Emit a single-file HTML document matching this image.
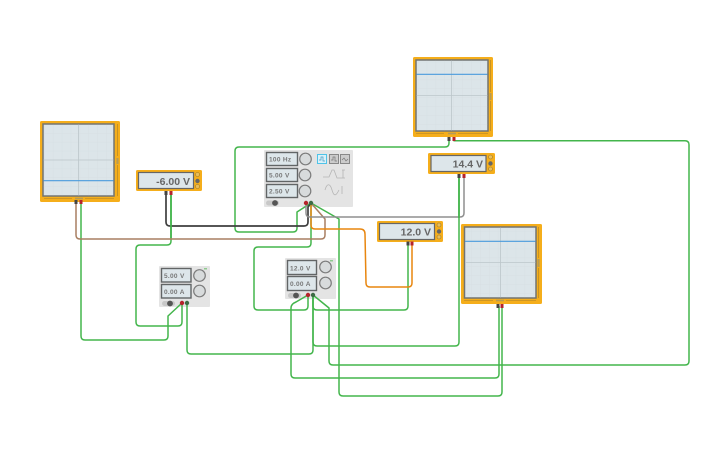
<!DOCTYPE html>
<html>
<head>
<meta charset="utf-8">
<style>
html,body{margin:0;padding:0;background:#fff;width:725px;height:453px;overflow:hidden}
svg{display:block;filter:blur(.3px)}
text{font-family:"Liberation Sans",sans-serif}
.w{fill:none;stroke-width:1.5;stroke-linejoin:round}
.g{stroke:#43b54c}
.grid2{stroke:#bcc6ca;stroke-width:.8}
.disp{fill:#dde6ea;stroke:#626566;stroke-width:1.4}
.dt{font-size:6.5px;font-weight:bold;fill:#777;letter-spacing:.3px}
.mt{font-size:10.5px;font-weight:bold;fill:#666;text-anchor:end}
.scr{fill:#dce5e9;stroke:#727473;stroke-width:1.5}
.knob{fill:#d8dbdc;stroke:#7c7c7c;stroke-width:1.200}
.icon{fill:none;stroke:#b5b5b5;stroke-width:.8}
</style>
</head>
<body>
<svg width="725" height="453" viewBox="0 0 725 453" xmlns="http://www.w3.org/2000/svg">
<defs>
<pattern id="gp" width="8.9" height="8.9" patternUnits="userSpaceOnUse">
<path d="M8.9 0V8.9H0" fill="none" stroke="#d2dbdf" stroke-width=".5"/>
</pattern>
</defs>

<!-- Scope 1 -->
<g>
<rect x="40" y="121" width="80" height="81" rx="1.500" fill="#f5ae1b"/>
<rect x="43" y="124" width="71" height="72" class="scr"/>
<rect x="43.800" y="124.800" width="69.400" height="70.400" fill="url(#gp)"/>
<path d="M78.500 124.500V195.500M43.500 160H113.500" class="grid2"/>
<path d="M43.500 180.700H113.500" stroke="#4a9bdc" stroke-width="1.200"/>
<path d="M44 198.500H72M85 198.500H114M117.500 124V156M117.500 165V196" stroke="#a97f2a" stroke-width=".6"/>
<rect x="116.500" y="158" width="2" height="6" fill="#b69a55"/>
<rect x="75" y="197.700" width="8" height="1.600" fill="#b69a55"/>
</g>
<!-- Scope 2 -->
<g>
<rect x="413" y="57" width="80" height="80" rx="1.500" fill="#f5ae1b"/>
<rect x="416" y="60" width="72" height="71" class="scr"/>
<rect x="416.800" y="60.800" width="70.400" height="69.400" fill="url(#gp)"/>
<path d="M451.500 60.500V130.500M416.500 95.500H487.500" class="grid2"/>
<path d="M416.500 74.300H487.500" stroke="#4a9bdc" stroke-width="1.200"/>
<path d="M416 133.500H444M458 133.500H488M490.500 60V92M490.500 101V131" stroke="#a97f2a" stroke-width=".6"/>
<rect x="489.500" y="93" width="2" height="7" fill="#b69a55"/>
<rect x="448" y="132.700" width="8" height="1.600" fill="#b69a55"/>
</g>
<!-- Scope 3 -->
<g>
<rect x="461" y="224" width="81" height="80" rx="1.500" fill="#f5ae1b"/>
<rect x="464.500" y="227" width="71.500" height="71" class="scr"/>
<rect x="465.300" y="227.800" width="69.900" height="69.400" fill="url(#gp)"/>
<path d="M500.500 227.500V297.500M465 262.500H535.500" class="grid2"/>
<path d="M465 241.300H535.500" stroke="#4a9bdc" stroke-width="1.200"/>
<path d="M464 300.500H493M506 300.500H536M538.500 227V258M538.500 268V298" stroke="#a97f2a" stroke-width=".6"/>
<rect x="537.500" y="259" width="2" height="8" fill="#b69a55"/>
<rect x="496" y="299.700" width="8" height="1.600" fill="#b69a55"/>
</g>

<!-- Meters -->
<g>
<rect x="136" y="170" width="66" height="21" rx="1.500" fill="#f5ae1b"/>
<rect x="138.500" y="172.500" width="55" height="16" fill="#dde6ea" stroke="#666" stroke-width="1.200"/>
<text x="190" y="185" class="mt">-6.00 V</text>
<circle cx="197.500" cy="174.500" r="2" fill="#e9bd5b" stroke="#9c7a2a" stroke-width=".6"/>
<circle cx="197.500" cy="181" r="2.200" fill="#666"/>
<circle cx="197.500" cy="186.500" r="2" fill="#e9bd5b" stroke="#9c7a2a" stroke-width=".6"/>
</g>
<g>
<rect x="428" y="153" width="67" height="21" rx="1.500" fill="#f5ae1b"/>
<rect x="431" y="155.500" width="55" height="16" fill="#dde6ea" stroke="#666" stroke-width="1.200"/>
<text x="483" y="167.500" class="mt">14.4 V</text>
<circle cx="490.500" cy="157" r="2" fill="#e9bd5b" stroke="#9c7a2a" stroke-width=".6"/>
<circle cx="490.500" cy="163.500" r="2.200" fill="#666"/>
<circle cx="490.500" cy="169" r="2" fill="#e9bd5b" stroke="#9c7a2a" stroke-width=".6"/>
</g>
<g>
<rect x="377" y="221" width="66" height="21" rx="1.500" fill="#f5ae1b"/>
<rect x="379.500" y="223.500" width="55" height="16" fill="#dde6ea" stroke="#666" stroke-width="1.200"/>
<text x="431" y="235.500" class="mt">12.0 V</text>
<circle cx="439" cy="225" r="2" fill="#e9bd5b" stroke="#9c7a2a" stroke-width=".6"/>
<circle cx="439" cy="231.500" r="2.200" fill="#666"/>
<circle cx="439" cy="237" r="2" fill="#e9bd5b" stroke="#9c7a2a" stroke-width=".6"/>
</g>

<!-- Function generator -->
<g>
<rect x="264" y="150" width="89" height="57" rx="1" fill="#e4e4e4"/>
<rect x="266.500" y="152.500" width="31" height="13" class="disp"/>
<rect x="266.500" y="168.500" width="31" height="13" class="disp"/>
<rect x="266.500" y="184.500" width="31" height="13" class="disp"/>
<text x="269" y="161.500" class="dt">100 Hz</text>
<text x="269" y="177.500" class="dt">5.00 V</text>
<text x="269" y="193.500" class="dt">2.50 V</text>
<circle cx="305.500" cy="159" r="5.800" class="knob"/>
<circle cx="305" cy="175" r="5.800" class="knob"/>
<circle cx="305" cy="191" r="5.800" class="knob"/>
<rect x="317.500" y="154.500" width="9" height="9" fill="#d9f1f9" stroke="#4fc3e8" stroke-width="1"/>
<path d="M319 160h2v-3h2v4h2" fill="none" stroke="#4a9bc4" stroke-width=".7"/>
<rect x="329.500" y="154.500" width="9" height="9" fill="#ccc" stroke="#888" stroke-width="1"/>
<path d="M331 160h2v-3h2v4h2" fill="none" stroke="#777" stroke-width=".7"/>
<rect x="340.500" y="154.500" width="9" height="9" fill="#ccc" stroke="#888" stroke-width="1"/>
<path d="M342 160l2-2 2 3 2-2" fill="none" stroke="#777" stroke-width=".7"/>
<path d="M323 177h6l3-7h2l3 8h5M343 170v8M342 170h3M342 178h3" class="icon"/>
<path d="M325 190c2-7 5-7 7 0s4 6 7 0M342 186v8" class="icon"/>
<rect x="266" y="200.500" width="13" height="5" rx="2.500" fill="#c8c8c8"/>
<circle cx="275" cy="203" r="2.900" fill="#555"/>
</g>

<!-- Power supply 1 -->
<g>
<rect x="159" y="266" width="51" height="41" rx="1" fill="#e4e4e4"/>
<rect x="161.500" y="268.500" width="29.500" height="13.500" class="disp"/>
<rect x="161.500" y="284.500" width="29.500" height="13.500" class="disp"/>
<text x="164" y="278" class="dt">5.00 V</text>
<text x="164" y="294" class="dt">0.00 A</text>
<circle cx="199.500" cy="275.500" r="5.800" class="knob"/>
<circle cx="199.500" cy="291" r="5.800" class="knob"/>
<rect x="162" y="301" width="13" height="5" rx="2.500" fill="#c8c8c8"/>
<circle cx="170" cy="303.500" r="2.900" fill="#555"/>
<rect x="204" y="268" width="3" height="1.500" fill="#8fca8f"/>
</g>
<!-- Power supply 2 -->
<g>
<rect x="285" y="258" width="51" height="41" rx="1" fill="#e4e4e4"/>
<rect x="287.500" y="260.500" width="29" height="14" class="disp"/>
<rect x="287.500" y="276.500" width="29" height="14" class="disp"/>
<text x="290" y="270.500" class="dt">12.0 V</text>
<text x="290" y="286" class="dt">0.00 A</text>
<circle cx="325.500" cy="267" r="5.800" class="knob"/>
<circle cx="325.500" cy="283" r="5.800" class="knob"/>
<rect x="288" y="293" width="13" height="5" rx="2.500" fill="#c8c8c8"/>
<circle cx="296" cy="295.500" r="2.900" fill="#555"/>
<rect x="330" y="260" width="3" height="1.500" fill="#8fca8f"/>
</g>

<!-- Wires -->
<g class="w">
<path class="g" d="M311 203L297 212V228Q297 232 293 232H239Q235 232 235 228V151Q235 147 239 147H445Q449 147 449 143V139"/>
<path class="g" d="M454 139V140.700H685Q689 140.700 689 144.700V361Q689 365 685 365H333Q329 365 329 361V308L313 295"/>
<path class="g" d="M311 203L339 219V392Q339 396 343 396H498Q502 396 502 392V306"/>
<path class="g" d="M171 192V241Q171 245 167 245H140Q136 245 136 249V322Q136 326 140 326H178Q182 326 182 322V303"/>
<path class="g" d="M81 202V336Q81 340 85 340H164Q168 340 168 336V316L182 303"/>
<path class="g" d="M311 203V243Q311 247 307 247H258Q254 247 254 251V306Q254 310 258 310H304Q308 310 308 306V295"/>
<path class="g" d="M313 295V306Q313 310 317 310H404Q408 310 408 306V243"/>
<path class="g" d="M187 303V350Q187 354 191 354H309Q313 354 313 350V295"/>
<path class="g" d="M459 175V342Q459 346 455 346H317Q313 346 313 342V295"/>
<path class="g" d="M308 295L296 302Q291 304 291 308V374Q291 378 295 378H495Q499 378 499 374V306"/>
<path stroke="#3f3f3f" stroke-width="1.700" d="M166 192V222Q166 226 170 226H304Q308 226 308 222V207L311 203"/>
<path stroke="#a97f62" d="M76 202V235Q76 239 80 239H321Q325 239 325 235V219L311 203"/>
<path stroke="#e8860f" d="M311 203V225Q311 229 315 229H360Q365 229 365 234L366 283Q366 287 370 287H408Q412 287 412 283V243"/>
<path stroke="#8f8f8f" d="M306 203V213Q306 217 310 217H460Q464 217 464 213V175"/>
<path class="g" d="M171 192V238M459 175V218" stroke-width="1.700"/>
</g>

<!-- Terminals -->
<g>
<rect x="74.500" y="200" width="3" height="4" fill="#444"/>
<rect x="79.500" y="200" width="3" height="4" fill="#b5232b"/>
<rect x="164.500" y="191" width="3" height="4" fill="#444"/>
<rect x="169.500" y="191" width="3" height="4" fill="#b5232b"/>
<rect x="447.500" y="137" width="3" height="4" fill="#444"/>
<rect x="452.500" y="137" width="3" height="4" fill="#b5232b"/>
<rect x="457.500" y="174" width="3" height="4" fill="#444"/>
<rect x="462.500" y="174" width="3" height="4" fill="#b5232b"/>
<rect x="406.500" y="241.500" width="3" height="4" fill="#444"/>
<rect x="410.500" y="241.500" width="3" height="4" fill="#b5232b"/>
<rect x="496.500" y="304" width="3" height="4" fill="#444"/>
<rect x="500.500" y="304" width="3" height="4" fill="#b5232b"/>
<circle cx="306" cy="203" r="2.200" fill="#b5232b"/>
<circle cx="311" cy="203" r="2.200" fill="#3d6b45"/>
<circle cx="182" cy="303" r="2.200" fill="#b5232b"/>
<circle cx="187" cy="303" r="2.200" fill="#3d6b45"/>
<circle cx="308" cy="295" r="2.200" fill="#b5232b"/>
<circle cx="313" cy="295" r="2.200" fill="#3d6b45"/>
</g>
</svg>
</body>
</html>
